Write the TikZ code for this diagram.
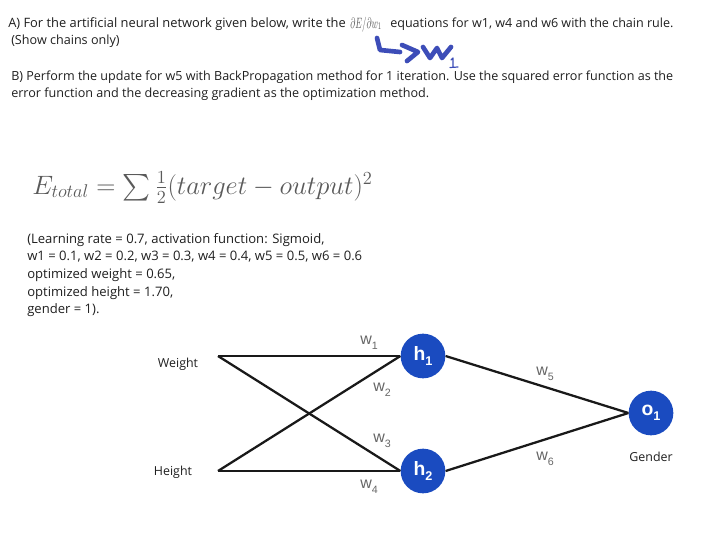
\documentclass[tikz,border=0pt]{standalone}
\usepackage{fontspec}
\usepackage{amsmath}
\usepackage{graphicx}
\setmainfont{Open Sans}
\newfontfamily\arialf{Liberation Sans}
\definecolor{nodeblue}{HTML}{1A4BC0}
\definecolor{pen}{HTML}{3D4DB8}
\definecolor{lab}{HTML}{666666}
\definecolor{eqgray}{HTML}{5A5A5A}
\newcommand{\wsub}[2]{w\raisebox{-3.5pt}{\fontsize{8}{8}\selectfont #2}}
\newcommand{\nsub}[2]{#1\raisebox{-3.5pt}{\fontsize{9.5}{9.5}\selectfont #2}}
\tikzset{
 x=0.75pt,y=-0.75pt,
 txt/.style={anchor=base west,inner sep=0pt,font=\fontsize{9.45}{11}\selectfont,text=black!88},
 txtb/.style={txt,font=\fontsize{9.8}{11}\selectfont},
 plain/.style={anchor=base,inner sep=0pt,font=\fontsize{9.3}{11}\selectfont,text=black!88},
 neuron/.style={circle,fill=nodeblue,minimum size=33.5pt,inner sep=0pt,text=white,font=\arialf\fontsize{14.5}{14.5}\selectfont\bfseries},
 wt/.style={inner sep=0pt,text=lab,font=\arialf\fontsize{12}{12}\selectfont},
 edge/.style={line width=1.7pt,black!90},
 penline/.style={pen,line width=3.5pt,line cap=round,line join=round},
}
\begin{document}
\begin{tikzpicture}
\useasboundingbox (0,0) rectangle (717,543);
\fill[white] (0,0) rectangle (717,543);
\node[txt,font=\fontsize{9.66}{11}\selectfont] (a1) at (8,27) {A) For the artificial neural network given below, write the};
\node[anchor=base,inner sep=0pt,text=eqgray] (frac) at (366,28) {\scalebox{0.7}[1.25]{\fontsize{9}{10}\selectfont$\partial E/\partial w_{1}$}};
\node[txt,font=\fontsize{9.42}{11}\selectfont] (a2) at (390,27) {equations for w1, w4 and w6 with the chain rule.};
\node[txt] (a3) at (11,44) {(Show chains only)};
\node[txt,font=\fontsize{9.42}{11}\selectfont] (b1) at (11,80) {B) Perform the update for w5 with BackPropagation method for 1 iteration. Use the squared error function as the};
\node[txt] (b2) at (11,97) {error function and the decreasing gradient as the optimization method.};
\node[anchor=base west,inner sep=0pt,text=eqgray] (eq) at (32,194) {\scalebox{0.96}{\fontsize{20.74}{25}\selectfont$E_{total}=\sum\frac{1}{2}(target-output)^{2}$}};
\node[txtb] (p1) at (27,243) {(Learning rate = 0.7, activation function: Sigmoid,};
\node[txtb] (p2) at (27,260) {w1 = 0.1, w2 = 0.2, w3 = 0.3, w4 = 0.4, w5 = 0.5, w6 = 0.6};
\node[txtb] (p3) at (27,278) {optimized weight = 0.65,};
\node[txtb] (p4) at (27,296) {optimized height = 1.70,};
\node[txtb] (p5) at (27,313) {gender = 1).};
% network
\coordinate (i1) at (218,356);
\coordinate (i2) at (218,471);
\node[neuron] (h1) at (423,356) {\nsub{h}{1}};
\node[neuron] (h2) at (423,471) {\nsub{h}{2}};
\node[neuron] (o1) at (651,413) {\nsub{o}{1}};
\draw[edge] (i1) -- (h1.west);
\draw[edge] (i1) -- (h2.west);
\draw[edge] (i2) -- (h1.west);
\draw[edge] (i2) -- (h2.west);
\draw[edge] (h1.east) -- (o1.west);
\draw[edge] (h2.east) -- (o1.west);
\node[plain] (weight) at (178,367) {Weight};
\node[plain] (height) at (173,475) {Height};
\node[plain] (gender) at (651,461) {Gender};
\node[wt] (w1) at (369,343) {\wsub{w}{1}};
\node[wt] (w2) at (382,390) {\wsub{w}{2}};
\node[wt] (w3) at (382,441) {\wsub{w}{3}};
\node[wt] (w4) at (369,487) {\wsub{w}{4}};
\node[wt] (w5) at (545,374) {\wsub{w}{5}};
\node[wt] (w6) at (545,459) {\wsub{w}{6}};
% handwritten note
\draw[penline] (377,38) -- (380,50) -- (400,52);
\draw[penline] (402,45) -- (418,52) -- (407,61);
\draw[penline] (423,47) -- (430,58) -- (437,48) -- (442,58) -- (451,47);
\draw[pen,line width=0.9pt,line cap=round,line join=round] (451,60) -- (453,58) -- (453,67) (450,67.5) -- (458,67);
\end{tikzpicture}
\end{document}
